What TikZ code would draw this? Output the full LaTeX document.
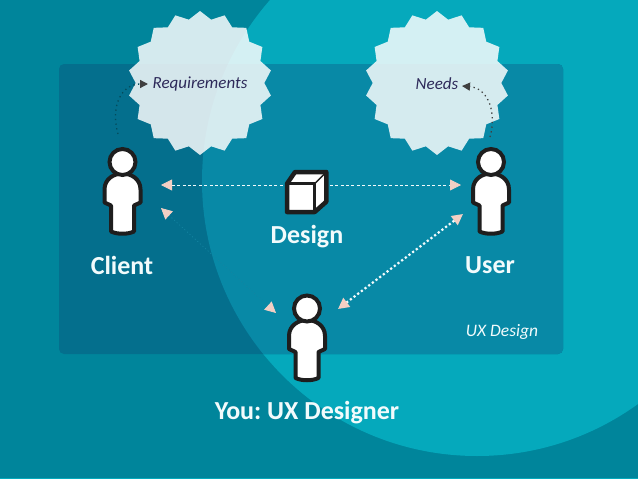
\documentclass[tikz,border=0pt]{standalone}
\usepackage{fontspec}
\setmainfont{Carlito}
\usetikzlibrary{arrows.meta, shapes.geometric}
\definecolor{bgdark}{HTML}{00859B}
\definecolor{bglight}{HTML}{05A9BC}
\definecolor{paneldark}{HTML}{046F8D}
\definecolor{panellight}{HTML}{0889A6}
\definecolor{linkfade}{HTML}{1385A2}
\definecolor{tippink}{HTML}{F3CFC4}
\definecolor{inkdark}{HTML}{1E1E1E}
\definecolor{inkblue}{HTML}{2E2A5A}
\definecolor{labelwhite}{HTML}{F2FBFC}
\tikzset{
  burst/.style={star, star points=18, star point ratio=1.12, minimum size=144pt, inner sep=0pt, fill=white, fill opacity=.83},
  bubbletext/.style={font=\itshape\fontsize{17}{17}\selectfont, text=inkblue},
  rolelabel/.style={font=\bfseries\fontsize{26}{26}\selectfont, text=labelwhite},
  linkdash/.style={draw=labelwhite, line width=.8pt, dash pattern=on 3pt off 2.4pt},
  linkfaint/.style={draw=linkfade, line width=.8pt, dash pattern=on 1pt off 2.5pt, {Triangle[length=11pt,width=11pt,color=tippink]}-{Triangle[length=11pt,width=11pt,color=tippink]}},
  linkdots/.style={draw=labelwhite, line width=2.2pt, dash pattern=on 2.2pt off 2.4pt, {Triangle[length=11pt,width=11pt,color=tippink]}-{Triangle[length=11pt,width=11pt,color=tippink]}},
  linkink/.style={line width=1.3pt, dash pattern=on 1.3pt off 3.4pt, -{Triangle[length=8pt,width=8pt,color=black!75]}},
  person/.pic={
    \draw[fill=white, draw=inkdark, line width=4pt, line join=round]
      (-18,10) -- (-18,-3) .. controls (-18,-14) and (-8,-19) .. (0,-19)
      .. controls (8,-19) and (18,-14) .. (18,-3) -- (18,10) -- (11.5,13) -- (11.5,39)
      .. controls (5,42) and (-5,42) .. (-11.5,39) -- (-11.5,13) -- cycle;
    \draw[fill=white, draw=inkdark, line width=4pt] (0,-30.5) circle (13);
  }
}
\begin{document}
\begin{tikzpicture}[x=1pt, y=-1pt]
  \useasboundingbox (0,0) rectangle (638,479);

  % Background and big circle
  \fill[bglight] (0,0) rectangle (638,479);
  \fill[bgdark] (0,0) rectangle (638,478);
  \begin{scope}
    \clip (0,0) rectangle (638,478);
    \fill[bglight] (477,181) circle (275);
  \end{scope}

  % Panel, lighter inside the circle
  \fill[paneldark, rounded corners=5pt] (59,64) rectangle (563,354);
  \begin{scope}
    \clip (477,181) circle (275);
    \fill[panellight, rounded corners=5pt] (59,64) rectangle (563,354);
  \end{scope}
  \node[font=\itshape\fontsize{17.5}{17.5}\selectfont, text=labelwhite] (area) at (502,332) {UX Design};

  % Bursts
  \node[burst] (reqburst) at (200,83) {};
  \node[burst] (needburst) at (437,83) {};
  \node[bubbletext] (req) at (200,84) {Requirements};
  \node[bubbletext] (need) at (437,84) {Needs};

  % People
  \pic at (122.5,192.5) {person};
  \pic at (491,192.5) {person};
  \pic at (307,339) {person};
  \node[rolelabel] (client) at (122,265) {Client};
  \node[rolelabel] (user) at (490,265) {User};
  \node[rolelabel] (you) at (307,413) {You:\hspace{-2pt} UX Designer};

  % Cube
  \node[minimum width=46pt, minimum height=46pt, inner sep=0pt] (cube) at (306.5,192) {};
  \draw[fill=white, draw=inkdark, line width=4.5pt, line join=round]
    (287,183.7) -- (295,172) -- (326.3,172) -- (326.3,201.7) -- (314.7,212) -- (287,212) -- cycle;
  \draw[draw=inkdark, line width=1.5pt] (314.7,183.7) -- (326.3,172);
  \draw[draw=inkdark, line width=3.4pt] (287,183.7) -- (314.7,183.7) -- (314.7,212);
  \node[rolelabel] (design) at (307,237) {Design};

  % Connector ends
  \coordinate (clientE) at (161,185);
  \coordinate (clientS) at (161,208);
  \coordinate (userW) at (461,185);
  \coordinate (userS) at (463,214);
  \coordinate (youW) at (276,313);
  \coordinate (youE) at (338,309);
  \coordinate (clientN) at (118,134);
  \coordinate (userN) at (490,137);
  \coordinate (reqW) at (148,84);
  \coordinate (needE) at (462,86);

  % Links
  \path[linkdash, {Triangle[length=11pt,width=11pt,color=tippink]}-] (clientE) -- (cube.west |- clientE);
  \path[linkdash, -{Triangle[length=11pt,width=11pt,color=tippink]}] (cube.east |- userW) -- (userW);
  \path[linkfaint] (clientS) -- (youW);
  \path[linkdots] (youE) -- (userS);
  \draw[linkink, draw=black!45!panellight] (clientN) .. controls (110,105) and (122,84) .. (reqW);
  \draw[linkink, draw=black!75] (userN) .. controls (497,112) and (488,88) .. (needE);
\end{tikzpicture}
\end{document}
